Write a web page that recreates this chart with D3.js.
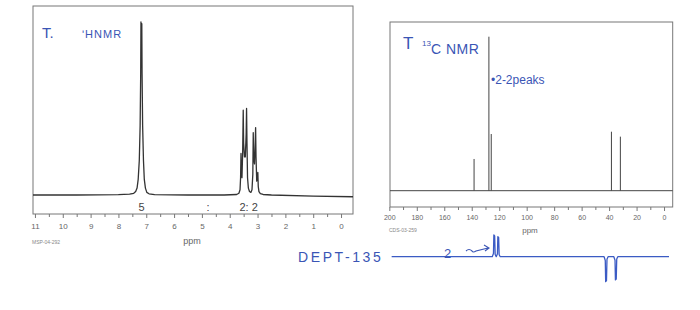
<!DOCTYPE html>
<html>
<head>
<meta charset="utf-8">
<script src="https://cdn.jsdelivr.net/npm/d3@7"></script>
<style>
  body { margin: 0; background: #fff; }
  svg { display: block; font-family: "Liberation Sans", Arial, sans-serif; }
</style>
</head>
<body>
<div id="chart"></div>
<script>
// 1H spectrum (ppm, relative intensity)
const hPpm = [11.07, 9.5, 8.0, 7.6, 7.45, 7.38, 7.33, 7.29, 7.25, 7.22, 7.20, 7.19, 7.18, 7.17, 7.16, 7.15, 7.13, 7.10, 7.07, 7.03, 6.98, 6.90, 6.7, 5.5, 4.2,
  3.75, 3.67, 3.63, 3.61, 3.595, 3.58, 3.56, 3.535, 3.515, 3.50, 3.47, 3.44, 3.41, 3.395, 3.38, 3.36, 3.33, 3.29, 3.24,
  3.20, 3.17, 3.155, 3.14, 3.11, 3.085, 3.07, 3.055, 3.03, 3.00, 2.99, 2.975, 2.95, 2.9, 2.8, 2.5, 1.0, -0.43];
const hInt = [0, 0, 0.2, 0.5, 1, 2, 4, 9, 20, 40, 70, 100, 85, 80, 99, 70, 40, 20, 9, 4, 1.5, 0.7, 0.2, 0, 0,
  0.3, 1, 3, 10, 24, 12, 10, 25, 49, 30, 22, 22, 35, 50, 30, 10, 4, 2, 1.5,
  3, 12, 36, 22, 18, 30, 39, 22, 8, 10, 13, 5, 2, 0.8, 0.3, 0, -0.6, -1];
const hTickLabels = [11, 10, 9, 8, 7, 6, 5, 4, 3, 2, 1, 0];
const intPpm = [7.17, 4.78, 3.32];
const intText = ['5', ':', '2: 2'];

// 13C peaks
const cShifts = [138.3, 127.5, 125.8, 38.3, 31.8];
const cHeights = [20.6, 100, 36.8, 38.3, 35.1];
const cTickLabels = [200, 180, 160, 140, 120, 100, 80, 60, 40, 20, 0];

// DEPT-135 sketch (positive = CH, negative = CH2)
const deptShifts = [123.6, 120.7, 42.2, 35.1];
const deptHeights = [100, 92, -115, -107];

const ink = '#3a55b5';
const svg = d3.select('#chart').append('svg')
  .attr('width', 700).attr('height', 310);

// ---------- 1H NMR ----------
const hX = d3.scaleLinear().domain([11.07, -0.43]).range([33, 353]);
const hY = d3.scaleLinear().domain([0, 100]).range([195, 22]);

svg.append('rect')
  .attr('x', 33).attr('y', 6).attr('width', 320).attr('height', 208)
  .attr('fill', 'none').attr('stroke', '#777').attr('stroke-width', 1);

const hAxis = svg.append('g')
  .attr('transform', 'translate(0,214)')
  .call(d3.axisBottom(hX).tickValues(hTickLabels).tickSize(4).tickPadding(5).tickFormat(d3.format('d')));
hAxis.select('.domain').remove();
hAxis.selectAll('line').attr('stroke', '#777');
hAxis.selectAll('text').attr('fill', '#666').style('font-size', '8px');

svg.append('g')
  .attr('transform', 'translate(0,214)')
  .call(d3.axisBottom(hX).tickValues(d3.range(0.5, 11, 1)).tickSize(3).tickFormat(''))
  .call(g => g.select('.domain').remove())
  .selectAll('line').attr('stroke', '#777');

const hLine = d3.line().x((d, i) => hX(hPpm[i])).y(d => hY(d));
svg.append('path')
  .datum(hInt)
  .attr('d', hLine)
  .attr('fill', 'none').attr('stroke', '#333').attr('stroke-width', 1.3)
  .attr('stroke-linejoin', 'round');

svg.selectAll('.intg')
  .data(intText)
  .enter().append('text')
  .attr('class', 'intg')
  .attr('x', (d, i) => hX(intPpm[i]))
  .attr('y', 211)
  .attr('text-anchor', 'middle')
  .attr('fill', '#444')
  .style('font-size', '11px')
  .text(d => d);

svg.append('text').attr('x', 192).attr('y', 244).attr('text-anchor', 'middle')
  .attr('fill', '#666').style('font-size', '9px').text('ppm');
svg.append('text').attr('x', 32).attr('y', 244)
  .attr('fill', '#888').style('font-size', '5px').text('MSP-04-292');

svg.append('text').attr('x', 42).attr('y', 38).attr('fill', ink)
  .style('font-size', '15px').text('T.');
svg.append('text').attr('x', 82).attr('y', 38).attr('fill', ink)
  .style('font-size', '11px').style('letter-spacing', '1px').text('ʹHNMR');

// ---------- 13C NMR ----------
const cX = d3.scaleLinear().domain([199.5, -6.3]).range([390, 672.7]);
const cY = d3.scaleLinear().domain([0, 100]).range([190.7, 36.7]);

svg.append('rect')
  .attr('x', 390).attr('y', 22).attr('width', 282.7).attr('height', 185)
  .attr('fill', 'none').attr('stroke', '#777').attr('stroke-width', 1);

const cAxis = svg.append('g')
  .attr('transform', 'translate(0,207)')
  .call(d3.axisBottom(cX).tickValues(cTickLabels).tickSize(4).tickPadding(4).tickFormat(d3.format('d')));
cAxis.select('.domain').remove();
cAxis.selectAll('line').attr('stroke', '#777');
cAxis.selectAll('text').attr('fill', '#666').style('font-size', '7px');

svg.append('g')
  .attr('transform', 'translate(0,207)')
  .call(d3.axisBottom(cX).tickValues(d3.range(10, 200, 20)).tickSize(3).tickFormat(''))
  .call(g => g.select('.domain').remove())
  .selectAll('line').attr('stroke', '#777');

svg.append('line')
  .attr('x1', cX.range()[0]).attr('x2', cX.range()[1])
  .attr('y1', cY(0)).attr('y2', cY(0))
  .attr('stroke', '#444').attr('stroke-width', 1);

svg.selectAll('.cpeak')
  .data(cShifts)
  .enter().append('line')
  .attr('class', 'cpeak')
  .attr('x1', d => cX(d)).attr('x2', d => cX(d))
  .attr('y1', cY(0)).attr('y2', (d, i) => cY(cHeights[i]))
  .attr('stroke', '#444').attr('stroke-width', 1);

svg.append('text').attr('x', 530).attr('y', 233).attr('text-anchor', 'middle')
  .attr('fill', '#666').style('font-size', '8px').text('ppm');
svg.append('text').attr('x', 389).attr('y', 232)
  .attr('fill', '#888').style('font-size', '5px').text('CDS-03-259');

svg.append('text').attr('x', 403).attr('y', 49).attr('fill', ink)
  .style('font-size', '17px').text('T');
svg.append('text').attr('x', 422).attr('y', 46).attr('fill', ink)
  .style('font-size', '8px').text('13');
svg.append('text').attr('x', 431).attr('y', 54).attr('fill', ink)
  .style('font-size', '14px').style('letter-spacing', '0.5px').text('C NMR');
svg.append('text').attr('x', 491).attr('y', 84).attr('fill', ink)
  .style('font-size', '12px').text('•2-2peaks');

// ---------- DEPT-135 ----------
const dY = d3.scaleLinear().domain([0, 100]).range([256.7, 235]);
const deptPts = [[cX(198.3), 0]];
deptShifts.forEach((s, i) => {
  const x = cX(s), h = deptHeights[i];
  deptPts.push([x - 2, 0], [x - 0.8, h * 0.15], [x - 0.4, h], [x + 0.4, h * 0.96], [x + 0.9, h * 0.1], [x + 2, 0]);
});
deptPts.push([cX(-3.6), 0]);
deptPts.sort((a, b) => a[0] - b[0]);

svg.append('path')
  .datum(deptPts)
  .attr('d', d3.line().x(d => d[0]).y(d => dY(d[1])))
  .attr('fill', 'none').attr('stroke', '#3b5bc4').attr('stroke-width', 1.3)
  .attr('stroke-linejoin', 'round');

svg.append('text').attr('x', 298).attr('y', 262).attr('fill', ink)
  .style('font-size', '14px').style('letter-spacing', '2.6px').text('DEPT-135');
svg.append('text').attr('x', 444).attr('y', 258).attr('fill', ink)
  .style('font-size', '13px').text('2');
svg.append('path')
  .attr('d', 'M466,251 q3,-3 6,0 q1,2 4,0 l12,-3 M484,245 l5,3 l-4,3')
  .attr('fill', 'none').attr('stroke', ink).attr('stroke-width', 1.1);
</script>
</body>
</html>
